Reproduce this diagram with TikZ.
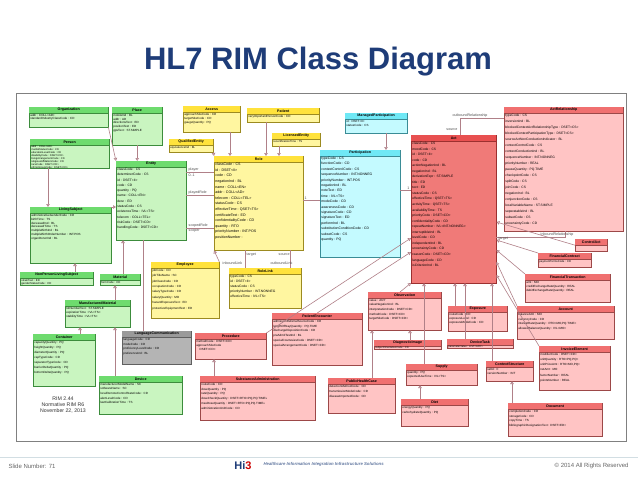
\documentclass[tikz,border=0pt]{standalone}
\usepackage{fontspec}
\setmainfont{Liberation Sans}
\usetikzlibrary{arrows.meta,calc}
\definecolor{gb}{HTML}{C9F5C0}\definecolor{gh}{HTML}{6EDB6E}\definecolor{gd}{HTML}{3C8C3C}
\definecolor{yb}{HTML}{FFF6A0}\definecolor{yh}{HTML}{FFE23C}\definecolor{yd}{HTML}{9C8A20}
\definecolor{cb}{HTML}{C4FAFF}\definecolor{ch}{HTML}{6FE8F5}\definecolor{cd}{HTML}{3A8C96}
\definecolor{rb}{HTML}{F07A78}\definecolor{rh}{HTML}{E85050}\definecolor{rd}{HTML}{9C3030}
\definecolor{pb}{HTML}{FFC4C4}\definecolor{ph}{HTML}{F07070}\definecolor{pd}{HTML}{9C4848}
\definecolor{kb}{HTML}{B4B4B4}\definecolor{kh}{HTML}{9A9A9A}\definecolor{kd}{HTML}{606060}
\definecolor{lnc}{HTML}{B08088}\definecolor{ttlc}{HTML}{1E3C78}
\tikzset{
 ttl/.style={font=\fontsize{3.6}{4}\selectfont\bfseries, inner sep=0},
 att/.style={align=left, inner sep=0.4pt, anchor=north west},
 gen/.style={draw=lnc, line width=0.6pt, -{Triangle[open,length=3pt,width=3.5pt]}},
 asc/.style={draw=lnc, line width=0.6pt},
 lbl/.style={font=\fontsize{3.6}{4}\selectfont, inner sep=0.5pt, text=black!70},
}
\newcommand\umlclass[9]{%
 \node[draw=#6d, fill=#6b, minimum width=#4pt, minimum height=#5pt, anchor=north west, inner sep=0] (#1) at (#2,#3) {};
 \fill[#6h] ([shift={(0.3pt,-0.3pt)}]#1.north west) rectangle ([shift={(-0.3pt,-6pt)}]#1.north east);
 \draw[#6d] ([yshift=-6pt]#1.north west) -- ([yshift=-6pt]#1.north east);
 \node[ttl] (#1t) at ([yshift=-3pt]#1.north) {#7};
 \node[att, font=\fontsize#9\selectfont] (#1a) at ([shift={(0.8pt,-6.5pt)}]#1.north west) {#8};
}
\begin{document}
\begin{tikzpicture}[x=1pt,y=-1pt]
\useasboundingbox (0,0) rectangle (638,479);
\fill[white] (0,0) rectangle (638,479);
\node[font=\fontsize{31}{34}\selectfont\bfseries, text=ttlc] (title) at (318,62) {HL7 RIM Class Diagram};
\draw[black!50, line width=0.5pt] (16,93) rectangle (626,441);
% Entity side
\umlclass{Organization}{29}{107}{79}{20}{g}{Organization}{addr : COLL<AD>\\standardIndustryClassCode : CD}{{3}{3.6}}
\umlclass{Place}{112}{107}{50}{38}{g}{Place}{mobileInd : BL\\addr : AD\\directionsText : ED\\positionText : ED\\gpsText : ST.SIMPLE}{{3}{3.8}}
\umlclass{Person}{30}{139}{79}{29}{g}{Person}{addr : COLL<AD>\\maritalStatusCode : CD\\educationLevelCode : CD\\disabilityCode : DSET<CD>\\livingArrangementCode : CD\\religiousAffiliationCode : CD\\raceCode : DSET<CD>\\ethnicGroupCode : DSET<CD>}{{2.6}{2.9}}
\umlclass{LivingSubject}{30}{207}{81}{56}{g}{LivingSubject}{administrativeGenderCode : CD\\birthTime : TS\\deceasedInd : BL\\deceasedTime : TS\\multipleBirthInd : BL\\multipleBirthOrderNumber : INT.POS\\organDonorInd : BL}{{3}{3.9}}
\umlclass{Entity}{116}{161}{70}{79}{g}{Entity}{classCode : CS\\determinerCode : CS\\id : DSET<II>\\code : CD\\quantity : PQ\\name : COLL<EN>\\desc : ED\\statusCode : CS\\existenceTime : IVL<TS>\\telecom : COLL<TEL>\\riskCode : DSET<CD>\\handlingCode : DSET<CD>}{{3.3}{5.3}}
\umlclass{NonPersonLivingSubject}{20}{272}{73}{13}{g}{NonPersonLivingSubject}{strainText : ED\\genderStatusCode : CD}{{2.8}{3.2}}
\umlclass{Material}{100}{274}{40}{11}{g}{Material}{formCode : CD}{{2.8}{3.2}}
\umlclass{ManufacturedMaterial}{65}{300}{65}{27}{g}{ManufacturedMaterial}{lotNumberText : ST.SIMPLE\\expirationTime : IVL<TS>\\stabilityTime : IVL<TS>}{{3}{4}}
\umlclass{Container}{33}{334}{62}{52}{g}{Container}{capacityQuantity : PQ\\heightQuantity : PQ\\diameterQuantity : PQ\\capTypeCode : CD\\separatorTypeCode : CD\\barrierDeltaQuantity : PQ\\bottomDeltaQuantity : PQ}{{3}{5}}
\umlclass{LanguageCommunication}{122}{331}{69}{33}{k}{LanguageCommunication}{languageCode : CD\\modeCode : CD\\proficiencyLevelCode : CD\\preferenceInd : BL}{{3}{4.8}}
\umlclass{Device}{99}{376}{83}{38}{g}{Device}{manufacturerModelName : SC\\softwareName : SC\\localRemoteControlStateCode : CD\\alertLevelCode : CD\\lastCalibrationTime : TS}{{3}{4.6}}
\node[align=center, font=\fontsize{5.2}{6.3}\selectfont, text=black!80] (rim) at (63,405) {RIM 2.44\\Normative RIM R6\\November 22, 2013};
% Role side
\umlclass{Access}{183}{106}{57}{26}{y}{Access}{approachSiteCode : CD\\targetSiteCode : CD\\gaugeQuantity : PQ}{{3}{4}}
\umlclass{Patient}{247}{108}{72}{14}{y}{Patient}{veryImportantPersonCode : CD}{{3}{3.6}}
\umlclass{QualifiedEntity}{169}{139}{44}{13}{y}{QualifiedEntity}{equivalenceInd : BL}{{2.8}{3.2}}
\umlclass{LicensedEntity}{272}{133}{48}{13}{y}{LicensedEntity}{recertificationTime : TS}{{2.8}{3.2}}
\umlclass{Role}{214}{156}{89}{94}{y}{Role}{classCode : CS\\id : DSET<II>\\code : CD\\negationInd : BL\\name : COLL<EN>\\addr : COLL<AD>\\telecom : COLL<TEL>\\statusCode : CS\\effectiveTime : QSET<TS>\\certificateText : ED\\confidentialityCode : CD\\quantity : RTO\\priorityNumber : INT.POS\\positionNumber :}{{3.6}{5.6}}
\umlclass{Employee}{151}{262}{68}{56}{y}{Employee}{jobCode : CD\\jobTitleName : SC\\jobClassCode : CD\\occupationCode : CD\\salaryTypeCode : CD\\salaryQuantity : MO\\hazardExposureText : ED\\protectiveEquipmentText : ED}{{3}{5.4}}
\umlclass{RoleLink}{229}{268}{72}{40}{y}{RoleLink}{typeCode : CS\\id : DSET<II>\\statusCode : CS\\priorityNumber : INT.NONNEG\\effectiveTime : IVL<TS>}{{3.3}{5}}
% Participation
\umlclass{ManagedParticipation}{345}{113}{62}{20}{c}{ManagedParticipation}{id : DSET<II>\\statusCode : CS}{{3}{4}}
\umlclass{Participation}{320}{150}{80}{107}{c}{Participation}{typeCode : CS\\functionCode : CD\\contextControlCode : CS\\sequenceNumber : INT.NONNEG\\priorityNumber : INT.POS\\negationInd : BL\\noteText : ED\\time : IVL<TS>\\modeCode : CD\\awarenessCode : CD\\signatureCode : CD\\signatureText : ED\\performInd : BL\\substitutionConditionCode : CD\\subsetCode : CS\\quantity : PQ}{{3.4}{5.4}}
% Act side
\umlclass{Act}{411}{135}{85}{148}{r}{Act}{classCode : CS\\moodCode : CS\\id : DSET<II>\\code : CD\\actionNegationInd : BL\\negationInd : BL\\derivationExpr : ST.SIMPLE\\title : ED\\text : ED\\statusCode : CS\\effectiveTime : QSET<TS>\\activityTime : QSET<TS>\\availabilityTime : TS\\priorityCode : DSET<CD>\\confidentialityCode : CD\\repeatNumber : IVL<INT.NONNEG>\\interruptibleInd : BL\\levelCode : CD\\independentInd : BL\\uncertaintyCode : CD\\reasonCode : DSET<CD>\\languageCode : CD\\isCriterionInd : BL}{{3.3}{5.55}}
\umlclass{ActRelationship}{504}{107}{119}{124}{p}{ActRelationship}{typeCode : CS\\inversionInd : BL\\blockedContextActRelationshipType : DSET<CS>\\blockedContextParticipationType : DSET<CS>\\sourceActNonConductionIndicator : BL\\contextControlCode : CS\\contextConductionInd : BL\\sequenceNumber : INT.NONNEG\\priorityNumber : REAL\\pauseQuantity : PQ.TIME\\checkpointCode : CS\\splitCode : CS\\joinCode : CS\\negationInd : BL\\conjunctionCode : CS\\localVariableName : ST.SIMPLE\\seperatableInd : BL\\subsetCode : CS\\uncertaintyCode : CD}{{3.3}{6}}
\umlclass{ControlAct}{575}{239}{32}{12}{p}{ControlAct}{}{{3}{3.6}}
\umlclass{FinancialContract}{538}{253}{53}{14}{p}{FinancialContract}{paymentTermsCode : CD}{{2.8}{3.2}}
\umlclass{FinancialTransaction}{525}{274}{85}{28}{p}{FinancialTransaction}{amt : MO\\creditExchangeRateQuantity : REAL\\debitExchangeRateQuantity : REAL}{{3}{4.3}}
\umlclass{Account}{517}{306}{97}{33}{p}{Account}{balanceAmt : MO\\currencyCode : CD\\interestRateQuantity : RTO<MO,PQ.TIME>\\allowedBalanceQuantity : IVL<MO>}{{3}{4.8}}
\umlclass{InvoiceElement}{539}{346}{71}{44}{p}{InvoiceElement}{modifierCode : DSET<CD>\\unitQuantity : RTO<PQ,PQ>\\unitPriceAmt : RTO<MO,PQ>\\netAmt : MO\\factorNumber : REAL\\pointsNumber : REAL}{{3}{5.2}}
\umlclass{Document}{508}{403}{94}{33}{p}{Document}{completionCode : CD\\storageCode : CD\\copyTime : TS\\bibliographicDesignationText : DSET<ED>}{{3}{4.8}}
\umlclass{ContextStructure}{486}{361}{47}{20}{p}{ContextStructure}{setId : II\\versionNumber : INT}{{3}{4}}
\umlclass{DeviceTask}{447}{339}{66}{9}{p}{DeviceTask}{parameterValue : LIST<ANY>}{{2.6}{3}}
\umlclass{Exposure}{448}{306}{59}{25}{p}{Exposure}{routeCode : CD\\exposureLevel : CD\\exposureModeCode : CD}{{3}{4.2}}
\umlclass{Observation}{368}{292}{73}{38}{p}{Observation}{value : ANY\\valueNegationInd : BL\\interpretationCode : DSET<CD>\\methodCode : DSET<CD>\\targetSiteCode : DSET<CD>}{{3}{4.6}}
\umlclass{DiagnosticImage}{374}{340}{67}{9}{p}{DiagnosticImage}{subjectOrientationCode : CD}{{2.6}{3}}
\umlclass{Supply}{406}{364}{71}{21}{p}{Supply}{quantity : PQ\\expectedUseTime : IVL<TS>}{{3}{4.6}}
\umlclass{Diet}{401}{399}{67}{27}{p}{Diet}{energyQuantity : PQ\\carbohydrateQuantity : PQ}{{3}{5}}
\umlclass{PublicHealthCase}{328}{378}{67}{35}{p}{PublicHealthCase}{detectionMethodCode : CD\\transmissionModeCode : CD\\diseaseImportedCode : CD}{{3}{5}}
\umlclass{PatientEncounter}{272}{313}{90}{52}{p}{PatientEncounter}{admissionReferralSourceCode : CD\\lengthOfStayQuantity : PQ.TIME\\dischargeDispositionCode : CD\\preAdmitTestInd : BL\\specialCourtesiesCode : DSET<CD>\\specialArrangementCode : DSET<CD>}{{3}{4.8}}
\umlclass{Procedure}{195}{333}{71}{26}{p}{Procedure}{methodCode : DSET<CD>\\approachSiteCode\\\ \ \ \ DSET<CD>}{{3}{4.2}}
\umlclass{SubstanceAdministration}{200}{376}{115}{44}{p}{SubstanceAdministration}{routeCode : CD\\doseQuantity : PQ\\rateQuantity : PQ\\doseCheckQuantity : DSET<RTO<PQ,PQ.TIME>>\\maxDoseQuantity : DSET<RTO<PQ,PQ.TIME>>\\administrationUnitCode : CD}{{3}{4.8}}
% generalizations (entity side)
\draw[gen] (Organization.south east) -- (Entity.north west);
\draw[gen] (Place.south) -- (Place.south |- Entity.north);
\draw[gen] (Person.south -| 48,0) -- (48,207);
\draw[gen] (LivingSubject.north east) -- (Entity.west |- LivingSubject.north east);
\draw[gen] (NonPersonLivingSubject.north -| 75,0) -- (75,263);
\draw[gen] (Material.north -| 123,0) -- (123,240);
\draw[gen] (ManufacturedMaterial.north -| 115,0) -- (115,285);
\draw[gen] (Container.north -| 80,0) -- (80,327);
\draw[gen] (Device.north -| 115,0) -- (115,327);
\draw[asc] (LanguageCommunication.north -| 143,0) -- (143,240);
% role side
\draw[gen] (Access.south -| 230,0) -- (230,156);
\draw[gen] (Patient.south -| 266,0) -- (266,156);
\draw[gen] (LicensedEntity.south -| 279,0) -- (279,156);
\draw[gen] (QualifiedEntity.south east) -- (Role.north west);
\draw[gen] (Employee.north east) -- (Role.south west);
\draw[asc] (Entity.east |- 0,172) -- (214,172);
\draw[asc] (Entity.east |- 0,228) -- (214,228);
\draw[asc] (Entity.east |- 0,195) -- (214,195);
\node[lbl, anchor=south west] (l1) at (188,172) {player};
\node[lbl, anchor=north west] (l2) at (188,173) {0..1};
\node[lbl, anchor=south west] (l3) at (188,195) {playedRole};
\node[lbl, anchor=south west] (l4) at (188,228) {scopedRole};
\node[lbl, anchor=north west] (l5) at (188,229) {scoper};
\draw[asc] (245,250) -- (245,268);
\draw[asc] (290,250) -- (290,268);
\node[lbl, anchor=west] (l6) at (246,255) {target};
\node[lbl, anchor=west] (l7) at (278,255) {source};
\node[lbl, anchor=west] (l8) at (222,263) {inboundLink};
\node[lbl, anchor=west] (l9) at (270,263) {outboundLink};
\draw[asc] (Role.east |- 0,200) -- (Participation.west |- 0,200);
\node[lbl, anchor=south west] (l10) at (304,200) {1};
\draw[asc] (Participation.east |- 0,190) -- (Act.west |- 0,190);
\node[lbl, anchor=south east] (l11) at (410,190) {1};
\draw[gen] (ManagedParticipation.south -| 386,0) -- (386,150);
% act relationships
\draw[asc] (460,135) -- (460,118) -- (ActRelationship.west |- 0,118);
\node[lbl, anchor=south] (l12) at (470,118) {outboundRelationship};
\node[lbl, anchor=east] (l13) at (458,130) {source};
\draw[asc] (Act.east |- 0,237) -- (565,237) -- (565,231);
\node[lbl, anchor=west] (l14) at (498,239) {target};
\node[lbl, anchor=south west] (l15) at (540,237) {inboundRelationship};
\draw[gen] (ControlAct.west) -- (Act.east |- 0,222);
\draw[gen] (FinancialContract.north west) -- (Act.east |- 0,240);
\draw[gen] (FinancialTransaction.north west) -- (Act.east |- 0,250);
\draw[gen] (Account.north west) -- (Act.east |- 0,262);
\draw[gen] (InvoiceElement.north west) -- (Act.east |- 0,275);
\draw[gen] (Procedure.north east) -- (Act.west |- 0,238);
\draw[gen] (PatientEncounter.north) -- (Act.west |- 0,252);
\draw[gen] (Observation.north -| 400,0) -- (Act.west |- 0,283);
\draw[gen] (Supply.north -| 424,0) -- (424,283);
\draw[gen] (Exposure.north -| 455,0) -- (455,283);
\draw[gen] (DeviceTask.north -| 465,0) -- (465,283);
\draw[gen] (ContextStructure.north -| 492,0) -- (492,283);
\draw[gen] (DiagnosticImage.north -| 410,0) -- (410,330);
\draw[gen] (PublicHealthCase.north -| 372,0) -- (372,330);
\draw[gen] (Diet.north -| 420,0) -- (420,385);
\draw[gen] (Document.north -| 512,0) -- (512,381);
\draw[gen] (SubstanceAdministration.north -| 214,0) -- (214,359);
% footer
\draw[cyan!40!black!20, line width=0.8pt] (0,457) -- (638,457);
\node[anchor=west, font=\fontsize{6}{7}\selectfont, text=black!60] (slide) at (5,466) {Slide Number: 71};
\node[anchor=east, font=\fontsize{6}{7}\selectfont, text=black!60] (copy) at (632,466) {© 2014 All Rights Reserved};
\node[font=\fontsize{11}{12}\selectfont\bfseries, text=ttlc] (logo) at (243,466) {Hi\textcolor{red!80!black}{3}};
\node[anchor=west, font=\fontsize{4.3}{5}\selectfont\itshape\bfseries, text=ttlc!70] (logot) at (260,464) {Healthcare Information Integration Infrastructure Solutions};
\end{tikzpicture}
\end{document}
